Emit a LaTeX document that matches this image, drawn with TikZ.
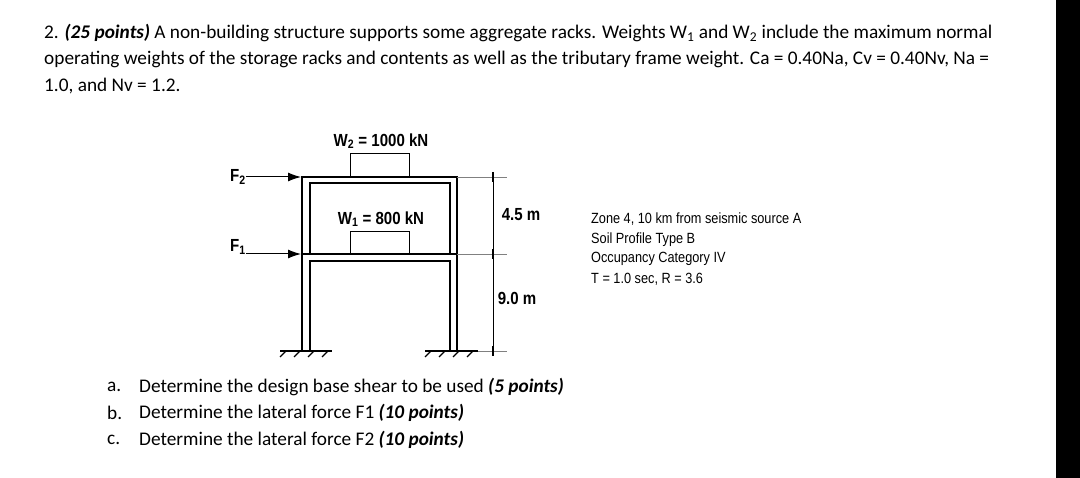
\documentclass[tikz,border=0pt]{standalone}
\usepackage{fontspec}
\setmainfont{Carlito}
\newfontfamily\narrowfont[FakeStretch=0.86]{Liberation Sans}
\usetikzlibrary{arrows.meta}
\begin{document}
\begin{tikzpicture}[x=1pt,y=-1pt,
  body/.style={font=\fontsize{19.3}{22}\selectfont, anchor=west, inner sep=0},
  lab/.style={font=\narrowfont\bfseries\fontsize{17.5}{19}\selectfont, inner sep=0},
  info/.style={font=\narrowfont\fontsize{14.8}{16}\selectfont, anchor=west, inner sep=0},
  mem/.style={line width=2pt},
  thin/.style={line width=0.5pt, gray},
  arr/.style={-{Latex[length=13pt,width=9pt]}, line width=1pt}]
\fill[white] (0,0) rectangle (1080,478);
\fill[black] (1056,0) rectangle (1080,478);
\node[body] (l1) at (44,33) {2. \textbf{\textit{(25 points)}} A non-building structure supports some aggregate racks. Weights W\textsubscript{1} and W\textsubscript{2} include the maximum normal};
\node[body] (l2) at (44,59) {operating weights of the storage racks and contents as well as the tributary frame weight. Ca = 0.40Na, Cv = 0.40Nv, Na =};
\node[body] (l3) at (44,86) {1.0, and Nv = 1.2.};
% frame
\draw[mem] (302,351) -- (302,177) -- (457,177) -- (457,351);
\draw[mem] (310,254) rectangle (450,183);
\draw[mem] (310,351) -- (310,261) -- (450,261) -- (450,351);
\draw[mem] (302,254) -- (310,254) (450,254) -- (457,254);
\draw[line width=1pt] (350,177) -- (350,154) -- (409,154) -- (409,177);
\draw[line width=1pt] (350,254) -- (350,232) -- (409,232) -- (409,254);
% supports
\foreach \a/\b in {280/332,425/478}{
  \draw[line width=1.2pt] (\a,351) -- (\b,351);
  \foreach \k in {0,1,2,3} \draw[line width=1.2pt] (\a+6+\k*14,351) -- (\a+\k*14,357);
}
% dims
\draw[thin] (457,177) -- (507,177) (457,254) -- (507,254) (478,351) -- (507,351);
\draw[line width=0.5pt] (493,177) -- (493,351);
\foreach \yy in {177,254,351} \draw[line width=1.2pt] (493,\yy-5) -- (493,\yy+5);
\node[lab] (w2) at (381,141) {W\textsubscript{2} = 1000 kN};
\node[lab] (w1) at (381,219) {W\textsubscript{1} = 800 kN};
\node[lab] (d1) at (521,215) {4.5 m};
\node[lab] (d2) at (517,298) {9.0 m};
\node[lab] (f2) at (238,177) {F\textsubscript{2}};
\node[lab] (f1) at (238,247) {F\textsubscript{1}};
\coordinate (p2) at (301,177); \coordinate (p1) at (301,254);
\draw[arr] (f2.east) -- (p2);
\draw[arr] (f1.east |- p1) -- (p1);
\node[info] (i1) at (591,219) {Zone 4, 10 km from seismic source A};
\node[info] (i2) at (591,240) {Soil Profile Type B};
\node[info] (i3) at (591,259) {Occupancy Category IV};
\node[info] (i4) at (591,279) {T = 1.0 sec, R = 3.6};
\node[body] (qa) at (107,387) {a.};
\node[body] (ta) at (139,387) {Determine the design base shear to be used \textbf{\textit{(5 points)}}};
\node[body] (qb) at (107,413) {b.};
\node[body] (tb) at (139,413) {Determine the lateral force F1 \textbf{\textit{(10 points)}}};
\node[body] (qc) at (107,440) {c.};
\node[body] (tc) at (139,440) {Determine the lateral force F2 \textbf{\textit{(10 points)}}};
\end{tikzpicture}
\end{document}
